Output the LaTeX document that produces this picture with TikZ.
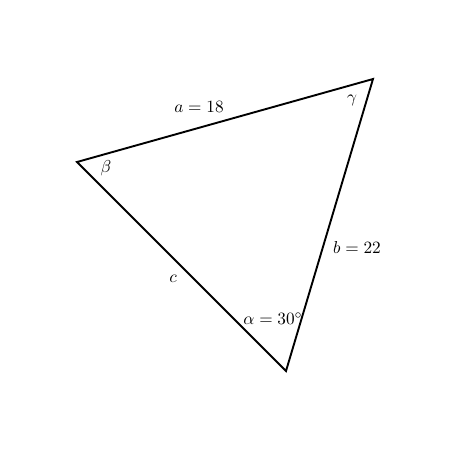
\documentclass[tikz,border=0pt]{standalone}
\usepackage{tikz}
\usetikzlibrary{positioning}
\tikzset
{
    vertex/.style = {inner sep=0pt, minimum size=0pt},
    side/.style   = {line width=1.1pt, line join=miter},
    lbl/.style    = {inner sep=1pt, font=\normalsize}
}

\begin{document}
\begin{tikzpicture}[x=0.58pt, y=-0.58pt]

   \useasboundingbox (0, 0) rectangle (450, 450);

   \coordinate (pb) at (77, 162);
   \coordinate (pg) at (373, 79);
   \coordinate (pa) at (286, 371);

   \draw[side] (pb) -- (pg) -- (pa) -- cycle;

   \node (la) [lbl] at (199, 107) {$a = 18$};
   \node (lb) [lbl] at (357, 248) {$b = 22$};
   \node (lc) [lbl] at (173, 279) {$c$};
   \node (lal) [lbl] at (273, 319) {$\alpha = 30^\circ$};
   \node (lbe) [lbl] at (106, 168) {$\beta$};
   \node (lga) [lbl] at (352, 100) {$\gamma$};

\end{tikzpicture}
\end{document}
